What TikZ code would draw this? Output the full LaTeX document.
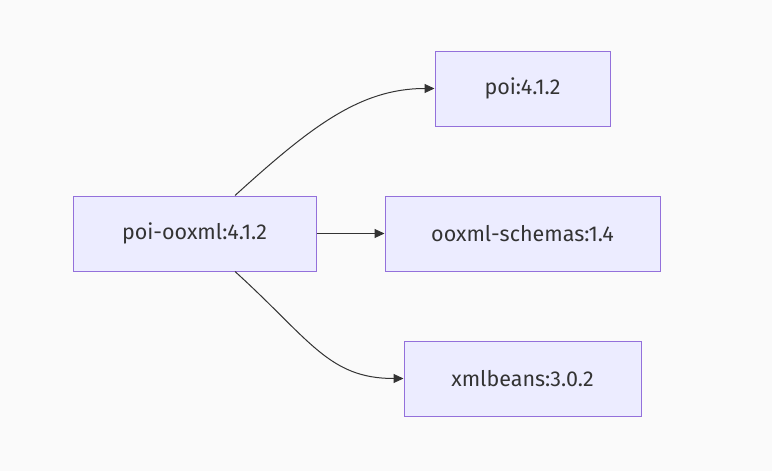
\documentclass[tikz,border=0pt]{standalone}
\usepackage{fontspec}
\setmainfont{Fira Sans}
\usetikzlibrary{positioning,arrows.meta}

\definecolor{bgcol}{HTML}{FAFAFA}
\definecolor{nodefill}{HTML}{ECECFF}
\definecolor{nodeline}{HTML}{9370DB}
\definecolor{inkcol}{HTML}{333333}

\begin{document}
\begin{tikzpicture}[
  x=1pt, y=-1pt,
  box/.style={draw=nodeline, fill=nodefill, line width=1pt, minimum height=75pt, inner sep=0pt, font=\fontsize{21.5}{25}\selectfont, text=inkcol},
  arr/.style={-{Triangle[length=10pt,width=9pt]}, draw=inkcol, line width=1pt}
]
  \fill[bgcol] (0,0) rectangle (772,471);
  \useasboundingbox (0,0) rectangle (772,471);

  \node[box, minimum width=243pt] (ooxml) at (194.5,233.5) {poi-ooxml:4.1.2};
  \node[box, minimum width=175pt] (poi) at (522.5,88.5) {poi:4.1.2};
  \node[box, minimum width=275pt] (schemas) at (522.5,233.5) {ooxml-schemas:1.4};
  \node[box, minimum width=237pt] (beans) at (522.5,378.5) {xmlbeans:3.0.2};

  \draw[arr] ([xshift=40.5pt]ooxml.north) .. controls +(75,-68) and +(-75,0) .. (poi.west);
  \draw[arr] (ooxml) -- (schemas);
  \draw[arr] ([xshift=40.5pt]ooxml.south) .. controls +(75,68) and +(-75,0) .. (beans.west);
\end{tikzpicture}
\end{document}
